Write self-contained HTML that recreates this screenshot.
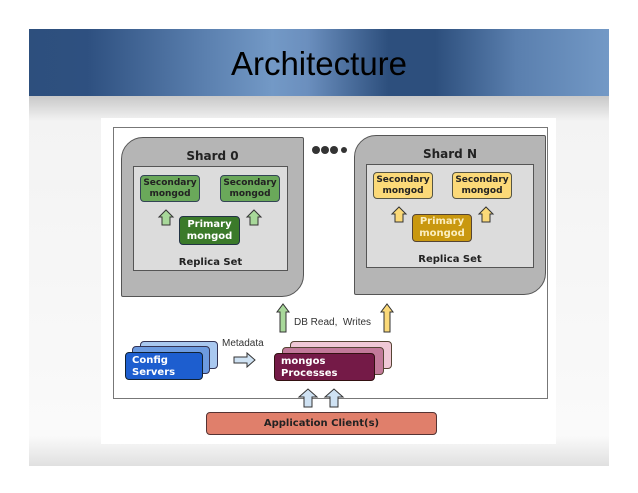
<!DOCTYPE html><html><head><style>
body{margin:0;width:638px;height:493px;background:#fff;position:relative;overflow:hidden;font-family:"DejaVu Sans","Liberation Sans",sans-serif}
.a{position:absolute;box-sizing:border-box}
.hdr{left:29px;top:29px;width:580px;height:67px;background:linear-gradient(90deg,#2d4f7d 0%,#2e5080 10%,#5a7fae 30%,#7399c6 42%,#6b8fbe 48%,#2d4f7d 62%,#2d4f7d 70%,#5a7fae 84%,#7399c6 100%)}
.bx{font-weight:bold;text-align:center;border-radius:4px;font-size:9px;line-height:11px;display:flex;align-items:center;justify-content:center}
.dot{position:absolute;width:8px;height:8px;border-radius:50%;background:#333}
</style></head><body>
<div class="a" style="left:29px;top:96px;width:580px;height:370px;background:linear-gradient(#c8c8c8,#f3f3f3 25px,#fafafa 340px,#e0e0e0)"></div>
<div class="a hdr"></div>
<div class="a" style="left:29px;top:45px;width:580px;text-align:center;font-family:'Liberation Sans',sans-serif;font-size:33px;color:#000">Architecture</div>
<div class="a" style="left:101px;top:118px;width:455px;height:326px;background:#fff"></div>
<div class="a" style="left:113px;top:127px;width:435px;height:272px;border:1.5px solid #777"></div>
<!-- shard 0 -->
<div class="a" style="left:121px;top:137px;width:183px;height:160px;background:#b5b5b5;border:1.5px solid #555;border-radius:22px 2px 22px 2px"></div>
<div class="a" style="left:121px;top:149px;width:183px;text-align:center;font-weight:bold;font-size:12px;color:#222">Shard 0</div>
<div class="a" style="left:133px;top:166px;width:155px;height:105px;background:#dcdcdc;border:1px solid #555"></div>
<div class="a bx" style="left:140px;top:175px;width:60px;height:27px;background:#6aa85a;border:1px solid #345;color:#222">Secondary<br>mongod</div>
<div class="a bx" style="left:220px;top:175px;width:60px;height:27px;background:#6aa85a;border:1px solid #345;color:#222">Secondary<br>mongod</div>
<div class="a bx" style="left:179px;top:216px;width:61px;height:29px;background:#3b7a2a;border:1px solid #234;color:#fff;font-size:10px;line-height:12px">Primary<br>mongod</div>
<div class="a" style="left:133px;top:257px;width:155px;text-align:center;font-weight:bold;font-size:10px;color:#222">Replica Set</div>
<!-- shard N -->
<div class="a" style="left:354px;top:135px;width:192px;height:160px;background:#b5b5b5;border:1.5px solid #555;border-radius:22px 2px 22px 2px"></div>
<div class="a" style="left:366px;top:147px;width:168px;text-align:center;font-weight:bold;font-size:12px;color:#222">Shard N</div>
<div class="a" style="left:366px;top:164px;width:168px;height:104px;background:#dcdcdc;border:1px solid #555"></div>
<div class="a bx" style="left:373px;top:172px;width:60px;height:27px;background:#fbd978;border:1px solid #554;color:#222">Secondary<br>mongod</div>
<div class="a bx" style="left:452px;top:172px;width:60px;height:27px;background:#fbd978;border:1px solid #554;color:#222">Secondary<br>mongod</div>
<div class="a bx" style="left:412px;top:214px;width:60px;height:28px;background:#c9980f;border:1px solid #543;color:#fbeec0;font-size:10px;line-height:12px">Primary<br>mongod</div>
<div class="a" style="left:366px;top:254px;width:168px;text-align:center;font-weight:bold;font-size:10px;color:#222">Replica Set</div>
<div class="dot" style="left:312px;top:146px"></div>
<div class="dot" style="left:321px;top:146px"></div>
<div class="dot" style="left:330px;top:146px"></div>
<div class="dot" style="left:341px;top:147px;width:6px;height:6px"></div>
<svg class="a" style="left:0;top:0" width="638" height="493">
<g stroke="#333" stroke-width="1">
<path d="M162 225v-8h-3l7-7 7 7h-3v8z" fill="#a8d89a"/>
<path d="M250 225v-8h-3l7-7 7 7h-3v8z" fill="#a8d89a"/>
<path d="M395 222v-8h-3l7-7 7 7h-3v8z" fill="#fbd978"/>
<path d="M482 222v-8h-3l7-7 7 7h-3v8z" fill="#fbd978"/>
<path d="M280 332v-20h-3l6-8 6 8h-3v20z" fill="#a8d89a"/>
<path d="M384 332v-20h-3l6-8 6 8h-3v20z" fill="#fbd978"/>
<path d="M234 357h13v-4l8 7-8 7v-4h-13z" fill="#cfe2f3"/>
<path d="M304 407v-10h-5l9-8 9 8h-5v10z" fill="#cfe2f3"/>
<path d="M330 407v-10h-5l9-8 9 8h-5v10z" fill="#cfe2f3"/>
</g></svg>
<div class="a" style="left:294px;top:317px;font-family:'Liberation Sans',sans-serif;font-size:10px;color:#333">DB Read,&nbsp; Writes</div>
<div class="a" style="left:222px;top:338px;font-family:'Liberation Sans',sans-serif;font-size:10px;color:#333">Metadata</div>
<div class="a" style="left:140px;top:341px;width:78px;height:28px;background:#a9c8f0;border:1px solid #335;border-radius:4px"></div>
<div class="a" style="left:132px;top:346px;width:78px;height:28px;background:#6d9be0;border:1px solid #335;border-radius:4px"></div>
<div class="a" style="left:125px;top:352px;width:78px;height:28px;background:#1d5ecf;border:1px solid #123;border-radius:4px;color:#fff;font-weight:bold;font-size:10px;line-height:12px;padding:2px 6px">Config<br>Servers</div>
<div class="a" style="left:290px;top:341px;width:102px;height:28px;background:#f0c8d6;border:1px solid #543;border-radius:4px"></div>
<div class="a" style="left:282px;top:347px;width:102px;height:28px;background:#c27a9a;border:1px solid #543;border-radius:4px"></div>
<div class="a" style="left:274px;top:353px;width:101px;height:28px;background:#741a47;border:1px solid #311;border-radius:4px;color:#fff;font-weight:bold;font-size:10px;line-height:12px;padding:2px 6px">mongos<br>Processes</div>
<div class="a bx" style="left:206px;top:412px;width:231px;height:23px;background:#e07f6b;border:1px solid #533;color:#222;font-size:10px">Application Client(s)</div>
</body></html>
